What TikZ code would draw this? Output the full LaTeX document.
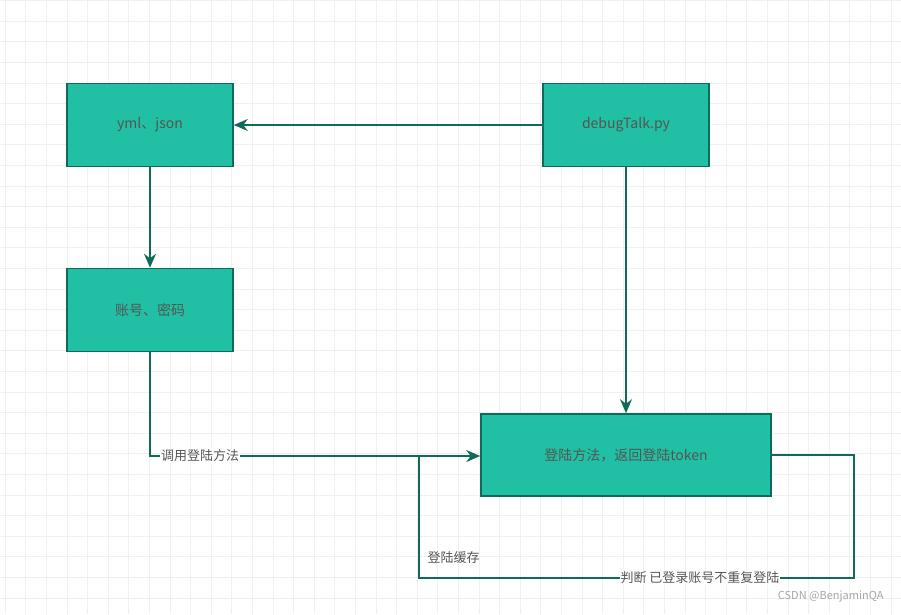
\documentclass[tikz,border=0pt]{standalone}
\usepackage{fontspec}
\setmainfont{Noto Sans CJK SC}
\usetikzlibrary{arrows.meta}
\definecolor{boxfill}{HTML}{21BFA3}
\definecolor{boxline}{HTML}{0E6B5A}
\definecolor{txt}{HTML}{555555}
\tikzset{
  box/.style={draw=boxline, line width=1.6pt, fill=boxfill, text=txt,
    minimum width=166pt, minimum height=83pt, font=\fontsize{14}{16}\selectfont},
  flow/.style={draw=boxline, line width=1.6pt, -{Stealth[length=14pt,width=12pt]}},
  loop/.style={draw=boxline, line width=1.6pt},
  lbl/.style={fill=white, text=txt, inner sep=1pt, font=\fontsize{13}{15}\selectfont}
}
\begin{document}
\begin{tikzpicture}[x=1pt,y=-1pt]
    % Background and grid
    \fill[white] (0,0) rectangle (901,614);
    \useasboundingbox (0,0) rectangle (901,614);
    \foreach \i in {0,...,43} {
      \draw[gray!12, line width=0.5pt] ({5+20.6*\i},0) -- ({5+20.6*\i},614);
    }
    \foreach \j in {0,...,29} {
      \draw[gray!12, line width=0.5pt] (0,{0.5+20.6*\j}) -- (901,{0.5+20.6*\j});
    }

    % Boxes
    \node[box] (yml) at (150,125) {yml、json};
    \node[box] (debug) at (626,125) {debugTalk.py};
    \node[box] (account) at (150,310) {账号、密码};
    \node[box, minimum width=290pt, minimum height=82pt] (login) at (626,455) {登陆方法，返回登陆token};

    % Connectors
    \draw[flow] (debug) -- (yml);
    \draw[flow] (yml) -- (account);
    \draw[flow] (debug) -- (login);
    \coordinate (turn) at (150,456);
    \coordinate (join) at (419,456);
    \draw[flow] (account.south) -- (turn) -- (login.west |- turn);
    \node[lbl, anchor=west] (call) at (160,456) {调用登陆方法};

    % Cache loop
    \coordinate (r1) at (854,455);
    \coordinate (r2) at (854,578);
    \coordinate (r3) at (419,578);
    \draw[loop] (login.east) -- (r1) -- (r2) -- (r3) -- (join);
    \node[lbl] (check) at (700,578) {判断 已登录账号不重复登陆};
    \node[text=txt, anchor=west, font=\fontsize{13}{15}\selectfont] (cache) at (424,558) {登陆缓存};

    % Watermark
    \node[text=gray!70, anchor=east, font=\fontsize{11}{13}\selectfont] (mark) at (887,597) {CSDN @BenjaminQA};
\end{tikzpicture}
\end{document}
